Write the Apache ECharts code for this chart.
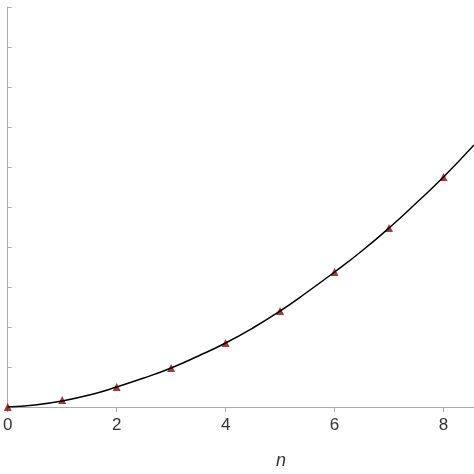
<!DOCTYPE html>
<html>
<head>
<meta charset="utf-8">
<script src="https://cdn.jsdelivr.net/npm/echarts@6/dist/echarts.min.js"></script>
<style>html,body{margin:0;padding:0;background:#fff}#chart{width:474px;height:474px}</style>
</head>
<body>
<div id="chart"></div>
<script>
// values (y in arbitrary units)
var pointsX = [0, 1, 2, 3, 4, 5, 6, 7, 8];
var pointsY = [0, 7, 20, 39, 64, 96, 135, 179, 230];
var curveX = [0, 0.5, 1, 1.5, 2, 2.5, 3, 3.5, 4, 4.5, 5, 5.5, 6, 6.5, 7, 7.5, 8, 8.56];
var curveY = [0, 2, 6, 12, 20, 29, 39, 51, 64, 79, 96, 115, 135, 156, 179, 204, 230, 262];
var xTicks = [0, 2, 4, 6, 8];

var chart = echarts.init(document.getElementById('chart'));
var option = {
    animation: false,
    grid: {left: 7, right: 0, top: 7, bottom: 67},
    xAxis: {
        type: 'value', min: 0, max: 8.56, interval: 2,
        axisLine: {lineStyle: {color: '#aaa'}},
        axisTick: {show: true, length: 5, lineStyle: {color: '#aaa'}},
        splitLine: {show: false},
        axisLabel: {
            color: '#333', fontSize: 17, margin: 10,
            showMaxLabel: false,
            formatter: function (v) { return xTicks.indexOf(v) >= 0 ? String(v) : ''; }
        }
    },
    yAxis: {
        type: 'value', min: 0, max: 400, interval: 40,
        axisLine: {show: true, lineStyle: {color: '#aaa'}},
        axisTick: {show: true, inside: true, length: 4, lineStyle: {color: '#aaa'}},
        axisLabel: {show: false},
        splitLine: {show: false}
    },
    graphic: [{
        type: 'text', left: 276, top: 452,
        style: {text: 'n', fontSize: 18, fontStyle: 'italic', fill: '#333'}
    }],
    series: [
        {
            type: 'line', smooth: true, showSymbol: false,
            lineStyle: {color: '#000', width: 1.5},
            data: curveX.map(function (x, i) { return [x, curveY[i]]; })
        },
        {
            type: 'scatter', symbol: 'triangle', symbolSize: 8,
            itemStyle: {color: '#8b0a0a'},
            data: pointsX.map(function (x, i) { return [x, pointsY[i]]; })
        }
    ]
};
chart.setOption(option);
</script>
</body>
</html>
